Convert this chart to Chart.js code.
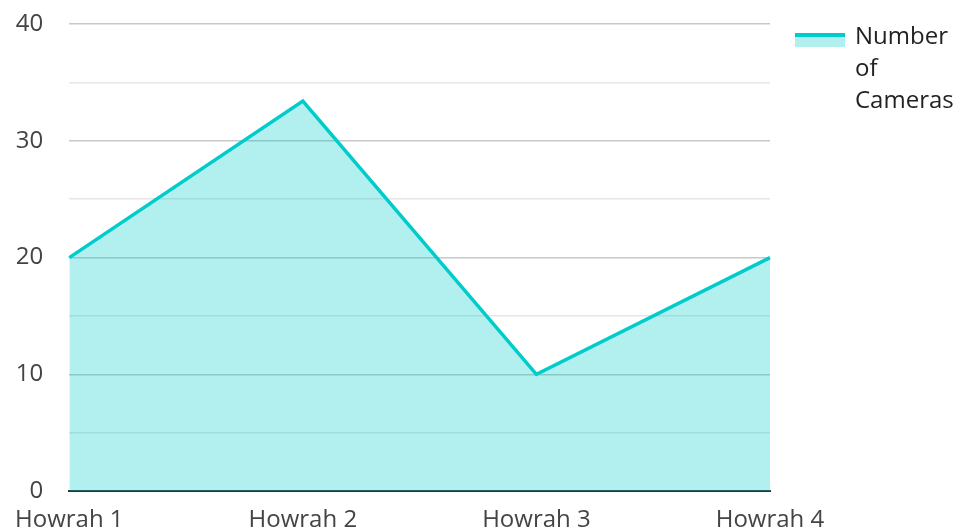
<!DOCTYPE html>
<html>
<head>
<meta charset="utf-8">
<script src="https://cdn.jsdelivr.net/npm/chart.js@4/dist/chart.umd.min.js"></script>
<style>
  html, body { margin: 0; padding: 0; background: #fff; }
  #wrap { width: 960px; height: 532px; }
</style>
</head>
<body>
<div id="wrap"><canvas id="c" width="960" height="532"></canvas></div>
<script>
const categories = ['Howrah 1', 'Howrah 2', 'Howrah 3', 'Howrah 4'];
const cameraCounts = [20, 33.4, 10, 20];
const seriesLabel = ['Number', 'of', 'Cameras'];
const yTickValues = [0, 10, 20, 30, 40];

const FONT = "'Open Sans', sans-serif";

const sideLegend = {
  id: 'sideLegend',
  afterDraw(chart) {
    const ctx = chart.ctx;
    const ds = chart.data.datasets[0];
    const x0 = chart.chartArea.right + 25;
    const y0 = 33;
    ctx.save();
    ctx.fillStyle = ds.backgroundColor;
    ctx.fillRect(x0, y0, 50, 14);
    ctx.fillStyle = ds.borderColor;
    ctx.fillRect(x0, y0, 50, 4);
    ctx.fillStyle = '#222';
    ctx.font = '24px ' + FONT;
    ctx.textBaseline = 'alphabetic';
    ctx.textAlign = 'left';
    const lines = Array.isArray(ds.label) ? ds.label : [ds.label];
    lines.forEach((t, i) => ctx.fillText(t, x0 + 60, 44 + i * 32));
    ctx.restore();
  }
};

new Chart(document.getElementById('c'), {
  type: 'line',
  data: {
    labels: categories,
    datasets: [{
      label: seriesLabel,
      data: cameraCounts,
      borderColor: '#00cccc',
      backgroundColor: 'rgba(0, 204, 204, 0.3)',
      borderWidth: 3.5,
      fill: 'origin',
      tension: 0,
      pointRadius: 0,
      pointHoverRadius: 0
    }]
  },
  options: {
    responsive: false,
    animation: false,
    events: [],
    layout: { padding: { top: 24, right: 190, left: 14, bottom: -18 } },
    plugins: {
      legend: { display: false },
      tooltip: { enabled: false },
      title: { display: false }
    },
    scales: {
      x: {
        offset: false,
        grid: { display: true, color: 'rgba(0,0,0,0)', drawTicks: false },
        border: { display: true, color: '#333', width: 2 },
        ticks: {
          font: { family: FONT, size: 24 },
          color: '#444',
          padding: 15,
          maxRotation: 0,
          autoSkip: false
        }
      },
      y: {
        min: 0,
        max: 40,
        afterFit: (scale) => { scale.width = 54; scale.paddingTop = 0; },
        grid: {
          drawTicks: false,
          color: (c) => (yTickValues.includes(c.tick.value) ? '#c8c8c8' : '#e6e6e6'),
          lineWidth: 1.5
        },
        border: { display: false },
        ticks: {
          stepSize: 5,
          font: { family: FONT, size: 24 },
          color: '#444',
          padding: 26,
          callback: (v) => (yTickValues.includes(v) ? String(v) : '')
        }
      }
    }
  },
  plugins: [sideLegend]
});
</script>
</body>
</html>
